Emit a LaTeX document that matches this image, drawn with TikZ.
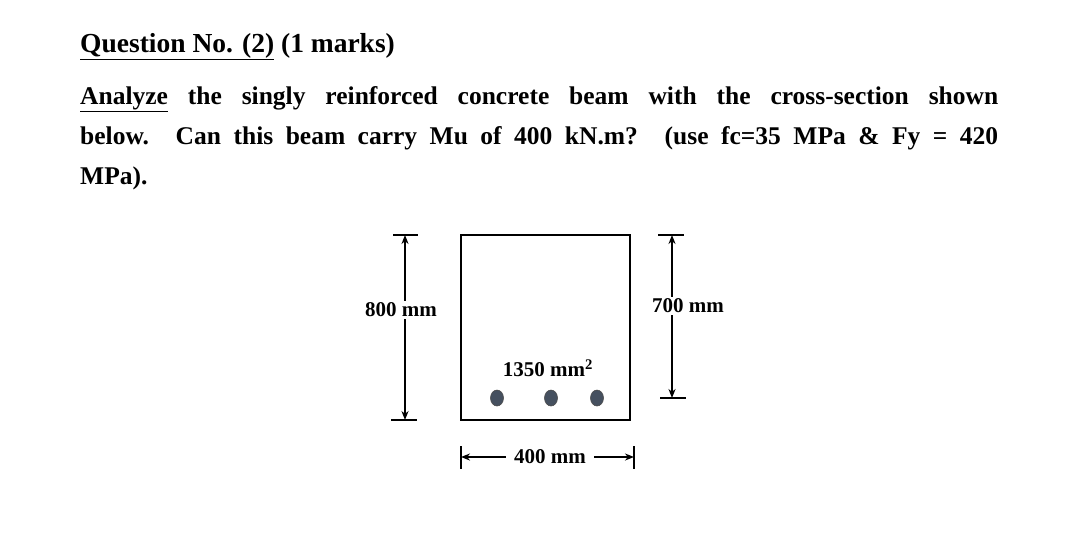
\documentclass[tikz,border=0pt]{standalone}
\usepackage{fontspec}
\setmainfont{Liberation Serif}
\usetikzlibrary{arrows.meta}
\definecolor{rebar}{HTML}{45505F}
\tikzset{
  dim/.style={line width=2pt, {Stealth[length=9pt,width=7pt]}-{Stealth[length=9pt,width=7pt]}},
  tick/.style={line width=2pt},
  lbl/.style={font=\fontsize{21}{24}\selectfont\bfseries, inner sep=2pt},
  bar/.style={fill=rebar, draw=black!70, line width=0.6pt}
}
\begin{document}
\begin{tikzpicture}[x=1pt,y=-1pt]
\useasboundingbox[fill=white] (0,0) rectangle (1080,539);
% heading and question text
\node[anchor=base west, inner sep=0pt, font=\fontsize{27.5}{30}\selectfont\bfseries] (title) at (80,52)
  {\underline{Question No. (2)} (1 marks)};
\node[anchor=north west, inner sep=0pt, text width=918pt, align=justify,
  font=\fontsize{25.5}{40}\selectfont\bfseries] (question) at (80,86)
  {\underline{Analyze} the singly reinforced concrete beam with the cross-section shown\linebreak
   below. Can this beam carry Mu of 400 kN.m? (use fc=35 MPa \& Fy = 420\linebreak
   MPa).};
% cross-section
\draw[line width=2pt] (461,235) rectangle (630,420);
\node[lbl] (as) at (548,368) {1350 mm\textsuperscript{2}};
\foreach \x [count=\i] in {497,551,597}
  \draw[bar] (\x,398) ellipse (6.5 and 8);
% 800 mm
\coordinate (htop) at (405,235);
\coordinate (hbot) at (405,420);
\draw[tick] (393,235) -- (418,235);
\draw[tick] (391,420) -- (417,420);
\draw[dim] (htop) -- (hbot);
\node[lbl, fill=white] (h) at (401,310) {800 mm};
% 700 mm
\coordinate (dtop) at (672,235);
\coordinate (dbot) at (672,398);
\draw[tick] (658,235) -- (684,235);
\draw[tick] (660,398) -- (686,398);
\draw[dim] (dtop) -- (dbot);
\node[lbl, fill=white] (d) at (688,306) {700 mm};
% 400 mm
\coordinate (bl) at (461,457);
\coordinate (br) at (634,457);
\draw[tick] (461,446) -- (461,469);
\draw[tick] (634,446) -- (634,469);
\draw[dim] (bl) -- (br);
\node[lbl, fill=white, inner xsep=8pt] (b) at (550,457) {400 mm};
\end{tikzpicture}
\end{document}
